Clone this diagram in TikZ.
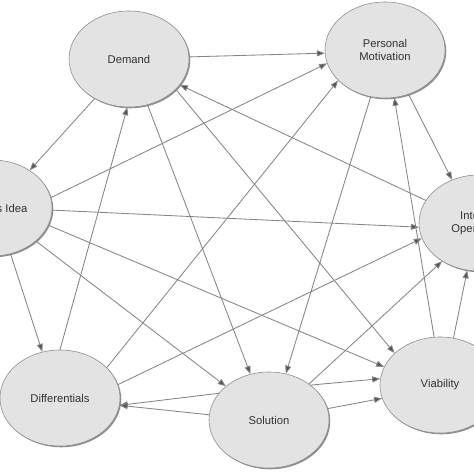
\documentclass[tikz,border=0pt]{standalone}
\usepackage{fontspec}
\setmainfont{Liberation Sans}
\usepackage{tikz}
\usetikzlibrary{shapes.geometric,arrows.meta,shadows}
\definecolor{nodefill}{HTML}{E3E3E3}
\definecolor{nodeline}{HTML}{8A8A8A}
\definecolor{linkline}{HTML}{858585}
\definecolor{tipfill}{HTML}{555555}
\tikzset{
    factor/.style={ellipse, draw=nodeline, thin, fill=nodefill, minimum width=3cm, minimum height=2.4cm, inner sep=0pt, align=center, text=black!80, font=\fontsize{8}{9.5}\selectfont, drop shadow={shadow xshift=0.9pt, shadow yshift=-0.9pt, fill=black!55, opacity=0.8}},
    link/.style={draw=linkline, line width=0.6pt, -{Triangle[length=2mm,width=1.5mm,fill=tipfill]}},
}
\begin{document}
\begin{tikzpicture}[x=0.025cm, y=-0.025cm]
    \clip (0,0) rectangle (474,474);
    \fill[white] (0,0) rectangle (474,474);
    \node[factor] (dem) at (129,59) {Demand};
    \node[factor] (pm) at (385,50) {Personal\\Motivation};
    \node[factor] (idea) at (-8,208) {Business Idea};
    \node[factor] (ops) at (479,223) {Internal\\Operations};
    \node[factor] (diff) at (60,398) {Differentials};
    \node[factor] (sol) at (269,420) {Solution};
    \node[factor] (via) at (440,385) {Viability};

    \foreach \a/\b in {dem.2/pm.183, dem.229/idea.45, diff.90/dem.268, dem.292/sol.112, pm.253/sol.70, dem.327/via.145, ops.157/dem.333, idea.10/pm.193, idea.358/ops.184, idea.292/diff.111, idea.323/sol.142, idea.343/via.162} \draw[link] (\a) -- (\b);
    \foreach \a/\b in {sol.152/diff.353, sol.175/diff.353, diff.33/pm.213, diff.13/ops.195, pm.298/ops.122, via.97/pm.281, via.74/ops.256, sol.42/ops.226, sol.40/via.174, sol.11/via.193} \draw[link] (\a) -- (\b);
\end{tikzpicture}
\end{document}
